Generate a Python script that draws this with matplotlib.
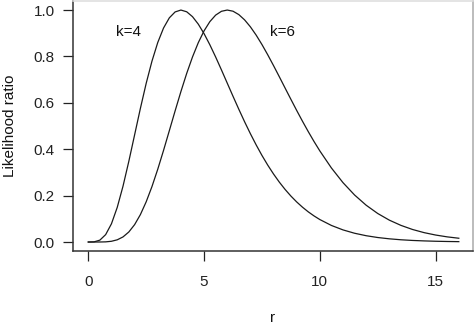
import matplotlib
matplotlib.use("Agg")
import matplotlib.pyplot as plt

plt.rcParams['font.family'] = ['Liberation Sans', 'DejaVu Sans']

r_values = [0.0, 0.25, 0.5, 0.75, 1.0, 1.25, 1.5, 1.75, 2.0, 2.25, 2.5, 2.75, 3.0, 3.25,
            3.5, 3.75, 4.0, 4.25, 4.5, 4.75, 5.0, 5.25, 5.5, 5.75, 6.0, 6.25, 6.5, 6.75,
            7.0, 7.25, 7.5, 7.75, 8.0, 8.25, 8.5, 8.75, 9.0, 9.25, 9.5, 9.75, 10.0,
            10.5, 11.0, 11.5, 12.0, 12.5, 13.0, 13.5, 14.0, 14.5, 15.0, 15.5, 16.0]
lr_k4 = [0.0, 0.0007, 0.0081, 0.0319, 0.0785, 0.1492, 0.2409, 0.3476, 0.4618, 0.5761,
         0.6839, 0.7798, 0.8601, 0.9226, 0.9664, 0.9919, 1.0, 0.9925, 0.9715, 0.9393,
         0.8982, 0.8502, 0.7976, 0.7420, 0.6851, 0.6282, 0.5724, 0.5184, 0.4670, 0.4185,
         0.3732, 0.3314, 0.2931, 0.2581, 0.2265, 0.1981, 0.1727, 0.1501, 0.1300, 0.1124,
         0.0968, 0.0714, 0.0522, 0.0378, 0.0272, 0.0194, 0.0138, 0.0097, 0.0068, 0.0048,
         0.0033, 0.0023, 0.0016]
lr_k6 = [0.0, 0.0, 0.0001, 0.0007, 0.0032, 0.0095, 0.0220, 0.0432, 0.0749, 0.1182,
         0.1733, 0.2391, 0.3138, 0.3951, 0.4800, 0.5655, 0.6487, 0.7269, 0.7977, 0.8593,
         0.9104, 0.9501, 0.9782, 0.9946, 1.0, 0.9950, 0.9804, 0.9576, 0.9277, 0.8918,
         0.8512, 0.8070, 0.7604, 0.7123, 0.6635, 0.6150, 0.5671, 0.5206, 0.4758, 0.4330,
         0.3926, 0.3191, 0.2558, 0.2026, 0.1586, 0.1229, 0.0943, 0.0718, 0.0541, 0.0405,
         0.0301, 0.0222, 0.0163]
x_ticks = [0, 5, 10, 15]
y_ticks = [0.0, 0.2, 0.4, 0.6, 0.8, 1.0]
y_tick_labels = ["0.0", "0.2", "0.4", "0.6", "0.8", "1.0"]
curve_labels = ["k=4", "k=6"]
label_pos = [(1.75, 0.905), (8.4, 0.905)]

fig = plt.figure(figsize=(4.74, 3.28), dpi=100)
ax = fig.add_axes([73/474, (328-251.3)/328, (472.7-73)/474, (251.3-1)/328])

ax.plot(r_values, lr_k4, color='#1a1a1a', lw=0.9)
ax.plot(r_values, lr_k6, color='#1a1a1a', lw=0.9)
for lab, (x, y) in zip(curve_labels, label_pos):
    ax.text(x, y, lab, ha='center', va='center', fontsize=11, color='#111111')

ax.set_xlim(-0.66, 16.6)
ax.set_ylim(-0.040, 1.039)
ax.set_xticks(x_ticks)
ax.set_xticklabels([str(t) for t in x_ticks])
ax.set_yticks(y_ticks)
ax.set_yticklabels(y_tick_labels)
ax.tick_params(axis='both', labelsize=11, length=7, width=0.9, colors='#222222')
ax.tick_params(axis='x', pad=10)
ax.tick_params(axis='y', pad=6)

ax.spines['left'].set_color('#333333')
ax.spines['bottom'].set_color('#333333')
ax.spines['right'].set_color('#aaaaaa')
ax.spines['top'].set_color('#dddddd')
for s in ax.spines.values():
    s.set_linewidth(1.1)

ax.set_xlabel('r', fontsize=11, color='#111111')
ax.set_ylabel('Likelihood ratio', fontsize=11, color='#111111')
ax.xaxis.set_label_coords(0.5, -0.24)
ax.yaxis.set_label_coords(-0.141, 0.5)

fig.savefig('out.png', dpi=100)
